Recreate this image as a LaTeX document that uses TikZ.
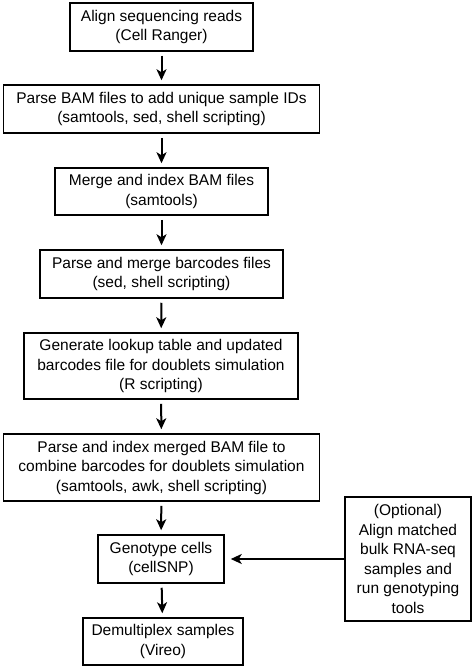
\documentclass[tikz,border=0pt]{standalone}
\usepackage{fontspec}
\setmainfont{Liberation Sans}
\usetikzlibrary{arrows.meta,shapes}

\begin{document}
\begin{tikzpicture}[x=1pt,y=-1pt,
    stepbox/.style={shape=rectangle,draw=black,line width=1.5pt,align=center,
        inner sep=0pt,font=\fontsize{15.5}{19.5}\selectfont},
    flow/.style={-{Stealth[length=11pt,width=10pt,inset=3pt]},line width=2pt,shorten >=4pt,shorten <=4pt}]
                \useasboundingbox (0,0) rectangle (474,669);
                \node[stepbox,minimum width=183pt,minimum height=48pt](align)at(161.5, 27){Align sequencing reads\\(Cell Ranger)};
                \node[stepbox,minimum width=316pt,minimum height=48pt](parse)at(161.5, 109){Parse BAM files to add unique sample IDs\\(samtools, sed, shell scripting)};
                \node[stepbox,minimum width=213pt,minimum height=47pt](merge)at(161.5, 191.5){Merge and index BAM files\\(samtools)};
                \node[stepbox,minimum width=243pt,minimum height=48pt](barcodes)at(161.5, 274){Parse and merge barcodes files\\(sed, shell scripting)};
                \node[stepbox,minimum width=274pt,minimum height=66pt](lookup)at(161, 366){Generate lookup table and updated\\barcodes file for doublets simulation\\(R scripting)};
                \node[stepbox,minimum width=316pt,minimum height=67pt](combine)at(161.5, 467.5){Parse and index merged BAM file to\\combine barcodes for doublets simulation\\(samtools, awk, shell scripting)};
                \node[stepbox,minimum width=126pt,minimum height=48pt](genotype)at(161, 559){Genotype cells\\(cellSNP)};
                \node[stepbox,minimum width=160pt,minimum height=47pt](demux)at(163, 641.5){Demultiplex samples\\(Vireo)};
                \node[stepbox,minimum width=126pt,minimum height=124pt](optional)at(408, 559){(Optional)\\Align matched\\bulk RNA-seq\\samples and\\run genotyping\\tools};
                \foreach \from/\to in {align/parse,parse/merge,merge/barcodes,barcodes/lookup,lookup/combine,combine/genotype,genotype/demux}
                    \draw[flow] (\from) -- (\to);
                \draw[flow,shorten <=0pt,shorten >=6pt] (optional) -- (genotype);
            \end{tikzpicture}
\end{document}
